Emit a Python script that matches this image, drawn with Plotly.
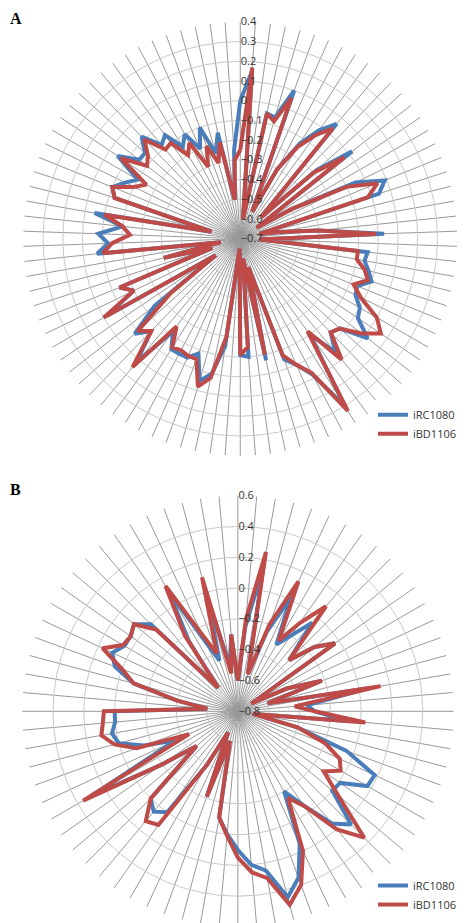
import plotly.graph_objects as go

# Panel A: 90 spokes, clockwise from top
a_irc = [0.0, 0.15, -0.6, -0.05, -0.06, 0.1, -0.55, -0.3, -0.13, -0.02,
         0.06, -0.55, -0.18, 0.02, -0.6, -0.4, -0.05, 0.09, 0.04, -0.6,
         -0.5, -0.3, 0.03, -0.6, -0.05, -0.06, -0.03, 0.0, -0.06, -0.05,
         0.0, 0.02, 0.12, -0.02, -0.04, 0.05, -0.1, 0.3, 0.08, 0.0,
         -0.05, -0.55, -0.07, -0.6, -0.1, -0.11, -0.65, -0.15, 0.0, 0.05,
         -0.08, -0.04, -0.04, -0.04, -0.12, 0.12, -0.05, 0.02, -0.15, -0.55,
         0.08, -0.1, -0.04, -0.55, -0.3, -0.6, 0.03, -0.03, 0.02, -0.1,
         0.05, -0.55, -0.03, 0.0, -0.05, -0.1, 0.05, -0.05, -0.05, 0.02,
         -0.08, -0.05, -0.15, -0.1, -0.2, -0.1, -0.25, -0.15, -0.5, -0.25]
a_ibd = [-0.25, 0.17, -0.6, -0.05, -0.08, 0.06, -0.55, -0.3, -0.15, -0.05,
         0.03, -0.55, -0.2, -0.03, -0.6, -0.4, -0.1, 0.05, -0.02, -0.6,
         -0.5, -0.3, -0.01, -0.6, -0.1, -0.1, -0.05, -0.02, -0.08, -0.02,
         0.1, 0.16, 0.08, -0.02, -0.04, 0.1, -0.12, 0.33, 0.07, 0.0,
         -0.07, -0.55, -0.1, -0.6, -0.15, -0.11, -0.65, -0.2, 0.02, 0.08,
         -0.05, -0.05, -0.06, -0.05, -0.15, 0.15, -0.05, 0.0, -0.25, -0.55,
         0.1, -0.1, -0.04, -0.55, -0.3, -0.6, 0.0, -0.05, -0.14, -0.1,
         0.0, -0.55, -0.03, 0.0, -0.1, -0.15, 0.03, -0.1, -0.07, 0.0,
         -0.11, -0.1, -0.2, -0.15, -0.3, -0.2, -0.3, -0.2, -0.5, -0.3]

# Panel B: 72 spokes
b_irc = [-0.6, -0.25, 0.15, -0.55, -0.25, 0.02, -0.3, -0.2, -0.05, -0.33,
         -0.15, -0.03, -0.7, -0.45, -0.22, -0.6, 0.05, -0.35, -0.3, -0.08,
         -0.7, -0.4, -0.05, 0.18, 0.17, 0.01, 0.0, 0.24, 0.15, -0.05,
         -0.2, 0.15, 0.35, 0.45, 0.25, 0.2, 0.1, 0.0, -0.1, -0.6,
         -0.21, -0.65, -0.4, 0.0, 0.05, 0.0, -0.45, -0.2, 0.3, -0.35,
         -0.15, 0.0, 0.03, 0.0, 0.0, -0.6, -0.4, -0.1, 0.05, 0.1,
         0.05, 0.05, 0.08, 0.0, -0.6, -0.25, 0.1, -0.3, -0.45, -0.05,
         -0.5, -0.3]
b_ibd = [-0.6, -0.2, 0.25, -0.55, -0.2, 0.13, -0.27, -0.1, 0.09, -0.33,
         -0.15, -0.03, -0.7, -0.45, -0.22, -0.6, 0.14, -0.43, -0.3, 0.03,
         -0.7, -0.4, -0.2, -0.07, -0.03, -0.12, 0.05, 0.36, 0.2, -0.05,
         -0.15, 0.2, 0.4, 0.5, 0.3, 0.25, 0.15, 0.01, -0.1, -0.6,
         -0.21, -0.65, -0.4, 0.1, 0.13, 0.0, -0.45, -0.2, 0.36, -0.45,
         -0.1, 0.03, 0.1, 0.08, 0.07, -0.6, -0.4, -0.1, 0.0, 0.17,
         0.06, 0.05, 0.08, -0.05, -0.6, -0.2, 0.14, -0.25, -0.4, 0.1,
         -0.55, -0.3]

BLUE = "#4a7ebb"
RED = "#be4b48"


def closed(vals, step):
    theta = [i * step for i in range(len(vals))] + [0]
    return vals + vals[:1], theta


fig = go.Figure()
for vals, name, color, sub, leg, step in [
        (a_irc, "iRC1080", BLUE, "polar", "legend", 4),
        (a_ibd, "iBD1106", RED, "polar", "legend", 4),
        (b_irc, "iRC1080", BLUE, "polar2", "legend2", 5),
        (b_ibd, "iBD1106", RED, "polar2", "legend2", 5)]:
    r, th = closed(vals, step)
    fig.add_trace(go.Scatterpolar(r=r, theta=th, mode="lines", name=name,
                                  line=dict(color=color, width=4),
                                  subplot=sub, legend=leg))


def polar_cfg(x0, x1, y0, y1, rng, dt, step):
    return dict(
        domain=dict(x=[x0, x1], y=[y0, y1]),
        bgcolor="white",
        radialaxis=dict(range=rng, dtick=dt, angle=90, tickangle=90,
                        showline=False, gridcolor="#c8c8c8", gridwidth=0.6,
                        ticks="", tickfont=dict(size=11, color="#333")),
        angularaxis=dict(direction="clockwise", rotation=90, dtick=step,
                         showticklabels=False, ticks="",
                         gridcolor="#999", gridwidth=0.7,
                         linecolor="#999", showline=False),
    )


fig.update_layout(
    width=474, height=923,
    margin=dict(l=0, r=0, t=0, b=0),
    paper_bgcolor="white",
    font=dict(family="Open Sans"),
    polar=polar_cfg(0.02, 0.96, 0.515, 0.985, [-0.7, 0.4], 0.1, 4),
    polar2=polar_cfg(0.03, 0.94, 0.004, 0.472, [-0.8, 0.6], 0.2, 5),
    legend=dict(x=0.77, y=0.575, xanchor="left", yanchor="top",
                font=dict(size=11, color="#333"), tracegroupgap=10),
    legend2=dict(x=0.77, y=0.065, xanchor="left", yanchor="top",
                 font=dict(size=11, color="#333")),
    annotations=[
        dict(text="<b>A</b>", x=0.0, y=1.0, xref="paper", yref="paper",
             xanchor="left", yanchor="top", showarrow=False,
             font=dict(family="Liberation Serif", size=16, color="black")),
        dict(text="<b>B</b>", x=0.0, y=0.49, xref="paper", yref="paper",
             xanchor="left", yanchor="top", showarrow=False,
             font=dict(family="Liberation Serif", size=16, color="black")),
    ],
)

fig.write_html("out.html")
